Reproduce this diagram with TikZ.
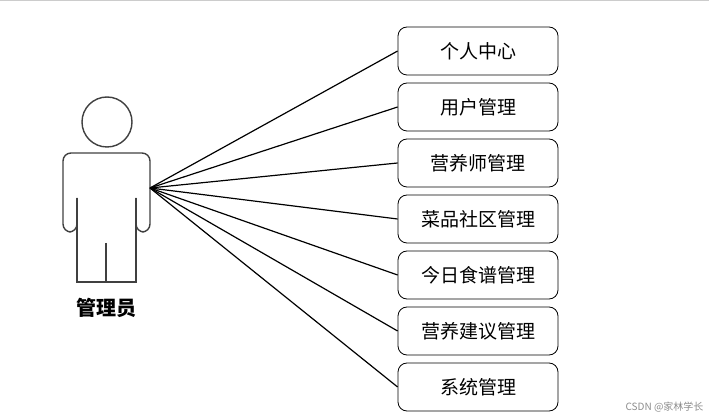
\documentclass[tikz,border=0pt]{standalone}
\usepackage{fontspec}
\newfontfamily\cjk{Noto Sans CJK SC}
\begin{document}
\begin{tikzpicture}[x=1pt,y=-1pt,
  ucbox/.style={draw,rounded corners=9pt,minimum width=160pt,minimum height=48pt,font=\cjk\fontsize{19}{19}\selectfont,line width=0.8pt},
  actor/.style={draw=black!75,line width=1.4pt},
  link/.style={line width=1.2pt}]
\useasboundingbox (0,0) rectangle (709,419);
\draw[black!20] (0,0.5) -- (709,0.5);
% actor
\draw[actor] (107,122) circle (25);
\draw[actor,rounded corners=8pt] (77,198) -- (77,232) -- (63,232) -- (63,153) -- (150,153) -- (150,232) -- (136,232) -- (136,198);
\draw[actor] (77,198) -- (77,282) -- (136,282) -- (136,198);
\draw[actor] (106,243) -- (106,282);
\coordinate (hub) at (150,188);
\node[font=\cjk\bfseries\fontsize{20}{20}\selectfont] (lbl) at (106,308) {管理员};
\foreach \i/\t in {1/个人中心,2/用户管理,3/营养师管理,4/菜品社区管理,5/今日食谱管理,6/营养建议管理,7/系统管理}{
  \node[ucbox] (b\i) at (478,{51+56*(\i-1)}) {\t};
  \draw[link] (hub) -- (b\i.west);
}
\node[anchor=east,text=black!45,font=\cjk\fontsize{10}{10}\selectfont] (wm) at (707,407) {CSDN @家林学长};
\end{tikzpicture}
\end{document}
